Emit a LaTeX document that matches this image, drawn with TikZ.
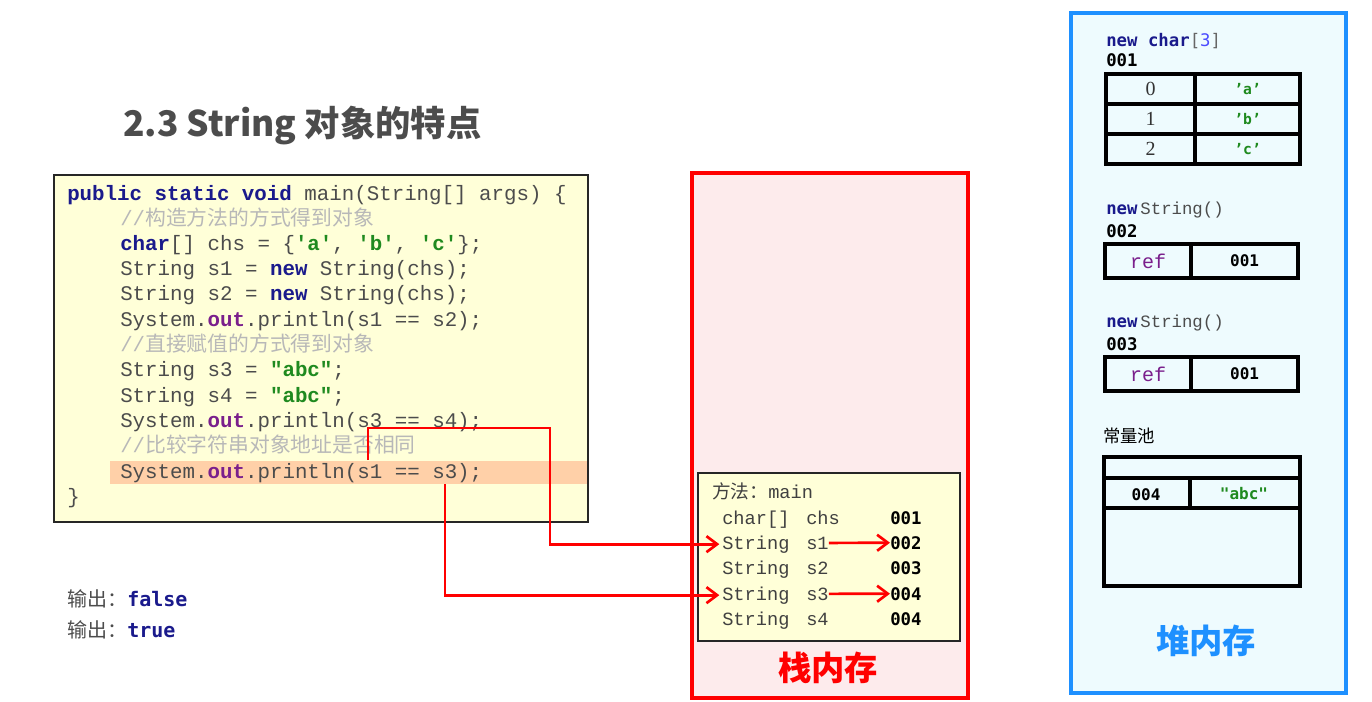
\documentclass[tikz,border=0pt]{standalone}
\usepackage{fontspec}
\setmonofont{Liberation Mono}
\setsansfont{Noto Sans CJK SC}
\newfontfamily\cjk{Noto Sans CJK SC}
\newfontfamily\dv{DejaVu Sans Mono}
\newfontfamily\lser{Liberation Serif}
\definecolor{kw}{HTML}{1A1A8C}
\definecolor{strg}{HTML}{1F8A1F}
\definecolor{outc}{HTML}{7A1F8C}
\definecolor{cmt}{HTML}{B8B8B8}
\definecolor{codebg}{HTML}{FFFFD8}
\definecolor{hl}{HTML}{FFD0A8}
\definecolor{stackbg}{HTML}{FDEBEC}
\definecolor{heapbg}{HTML}{EEFBFE}
\definecolor{heapblue}{HTML}{1E90FF}
\usetikzlibrary{arrows.meta}
\begin{document}
\begin{tikzpicture}[x=0.75pt,y=-0.75pt,
  code/.style={anchor=base west,inner sep=0,font=\ttfamily\fontsize{15.6}{16}\selectfont,text=black!70},
  stk/.style={anchor=base west,inner sep=0,font=\ttfamily\fontsize{14}{16}\selectfont,text=black!75},
  addr/.style={anchor=base west,inner sep=0,font=\dv\bfseries\fontsize{13}{16}\selectfont},
  cell/.style={draw=black,line width=3.2pt},
  redarr/.style={red,line width=2pt,-{Straight Barb[length=8pt,width=12pt,line width=2pt]}}]
\useasboundingbox (0,0) rectangle (1372,701);
% title
\node[anchor=base west,inner sep=0,font=\sffamily\bfseries\fontsize{26.5}{30}\selectfont,text=black!70] (title) at (123,136) {2.3 String 对象的特点};
% code box
\node[draw=black!85,line width=1.5pt,fill=codebg,minimum width=400.5pt,minimum height=260pt,anchor=north west,inner sep=0] (codebox) at (53,174) {};
\fill[hl] (110,461) rectangle (587,484);
\def\ind{120}
\node[code] (c1) at (67,200) {\textcolor{kw}{\textbf{public static void}} main(String[] args) \{};
\node[code,text=cmt] (c2) at (\ind,225) {//\cjk\itshape 构造方法的方式得到对象};
\node[code] (c3) at (\ind,250) {\textcolor{kw}{\textbf{char}}[] chs = \{\textcolor{strg}{\textbf{'a'}}, \textcolor{strg}{\textbf{'b'}}, \textcolor{strg}{\textbf{'c'}}\};};
\node[code] (c4) at (\ind,275) {String s1 = \textcolor{kw}{\textbf{new}} String(chs);};
\node[code] (c5) at (\ind,300) {String s2 = \textcolor{kw}{\textbf{new}} String(chs);};
\node[code] (c6) at (\ind,326) {System.\textcolor{outc}{\textbf{out}}.println(s1 == s2);};
\node[code,text=cmt] (c7) at (\ind,351) {//\cjk 直接赋值的方式得到对象};
\node[code] (c8) at (\ind,376) {String s3 = \textcolor{strg}{\textbf{"abc"}};};
\node[code] (c9) at (\ind,402) {String s4 = \textcolor{strg}{\textbf{"abc"}};};
\node[code] (c10) at (\ind,427) {System.\textcolor{outc}{\textbf{out}}.println(s3 == s4);};
\node[code,text=cmt] (c11) at (\ind,452) {//\cjk 比较字符串对象地址是否相同};
\node[code] (c12) at (\ind,478) {System.\textcolor{outc}{\textbf{out}}.println(s1 == s3);};
\node[code] (c13) at (67,503) {\}};
% outputs
\node[anchor=base west,inner sep=0,font=\fontsize{15}{16}\selectfont,text=black!70] (o1) at (67,606) {\cjk 输出：\dv\bfseries\textcolor{kw}{false}};
\node[anchor=base west,inner sep=0,font=\fontsize{15}{16}\selectfont,text=black!70] (o2) at (67,637) {\cjk 输出：\dv\bfseries\textcolor{kw}{true}};
% stack
\node[draw=red,line width=3pt,fill=stackbg,minimum width=207pt,minimum height=394pt,anchor=north west,inner sep=0] (stack) at (690,171) {};
\node[draw=black!85,line width=1.2pt,fill=codebg,minimum width=196.5pt,minimum height=126pt,anchor=north west,inner sep=0] (frame) at (697,472) {};
\node[stk] (fm) at (712,498) {\cjk 方法：\ttfamily main};
\node[stk] (t1) at (722,524) {char[]};  \node[stk] (v1) at (806,524) {chs}; \node[addr] (a1) at (890,524) {001};
\node[stk] (t2) at (722,549) {String};  \node[stk] (v2) at (806,549) {s1};  \node[addr] (a2) at (890,549) {002};
\node[stk] (t3) at (722,574) {String};  \node[stk] (v3) at (806,574) {s2};  \node[addr] (a3) at (890,574) {003};
\node[stk] (t4) at (722,600) {String};  \node[stk] (v4) at (806,600) {s3};  \node[addr] (a4) at (890,600) {004};
\node[stk] (t5) at (722,625) {String};  \node[stk] (v5) at (806,625) {s4};  \node[addr] (a5) at (890,625) {004};
\node[font=\sffamily\bfseries\fontsize{25}{28}\selectfont,text=red] (stklbl) at (828,668) {栈内存};
\draw[redarr] (v2.east) -- (a2.west);
\draw[redarr] (v4.east) -- (a4.west);
\coordinate (p1) at (368,460); \coordinate (p2) at (445,484);
\draw[redarr] (p1) |- (550,428) |- ([xshift=-2pt]t2.west);
\draw[redarr] (p2) |- ([xshift=-2pt]t4.west);
% heap
\node[draw=heapblue,line width=3pt,fill=heapbg,minimum width=206pt,minimum height=510pt,anchor=north west,inner sep=0] (heap) at (1069,11) {};
\node[anchor=base west,inner sep=0,font=\dv\fontsize{13}{16}\selectfont] (h1) at (1106,46) {\textcolor{kw}{\bfseries new char}\textcolor{black!60}{[}\textcolor{blue!70}{3}\textcolor{black!60}{]}};
\node[addr] (h1a) at (1106,66) {001};
\foreach \i/\n/\v in {0/0/a,1/1/b,2/2/c}{
  \node[cell,minimum width=66.75pt,minimum height=22.5pt,anchor=north west,inner sep=0,font=\lser\fontsize{15}{16}\selectfont,text=black!80] (k\n) at (1104,72+30*\i) {\n};
  \node[cell,minimum width=78.75pt,minimum height=22.5pt,anchor=north west,inner sep=0,font=\dv\bfseries\fontsize{11}{14}\selectfont,text=strg] (e\n) at (1193,72+30*\i) {’\v’};
}
\foreach \j/\y/\a in {2/208/002,3/321/003}{
  \node[anchor=base west,inner sep=0,font=\fontsize{13}{16}\selectfont] (ns\j) at (1106,\y+6) {\dv\bfseries\textcolor{kw}{new}\,\ttfamily\mdseries\textcolor{black!70}{String()}};
  \node[addr] (na\j) at (1106,\y+29) {\a};
  \node[cell,minimum width=64.5pt,minimum height=25.5pt,anchor=north west,inner sep=0,font=\ttfamily\fontsize{15}{16}\selectfont,text=outc] (r\j) at (1103,\y+34) {ref};
  \node[cell,minimum width=80.25pt,minimum height=25.5pt,anchor=north west,inner sep=0,font=\dv\bfseries\fontsize{12}{14}\selectfont] (rv\j) at (1189,\y+34) {001};
}
\node[anchor=base west,inner sep=0,font=\cjk\fontsize{13}{16}\selectfont] (pool) at (1103,442) {常量池};
\node[cell,minimum width=147pt,minimum height=96.75pt,anchor=north west,inner sep=0] (poolbox) at (1102,455) {};
\draw[line width=3.2pt] (1102,478) -- (1298,478) (1102,508) -- (1298,508) (1190,478) -- (1190,508);
\node[font=\dv\bfseries\fontsize{12}{14}\selectfont] (pa) at (1146,495) {004};
\node[font=\dv\bfseries\fontsize{12}{14}\selectfont,text=strg] (pv) at (1244,494) {"abc"};
\node[font=\sffamily\bfseries\fontsize{25}{28}\selectfont,text=heapblue] (heaplbl) at (1206,641) {堆内存};
\end{tikzpicture}
\end{document}
